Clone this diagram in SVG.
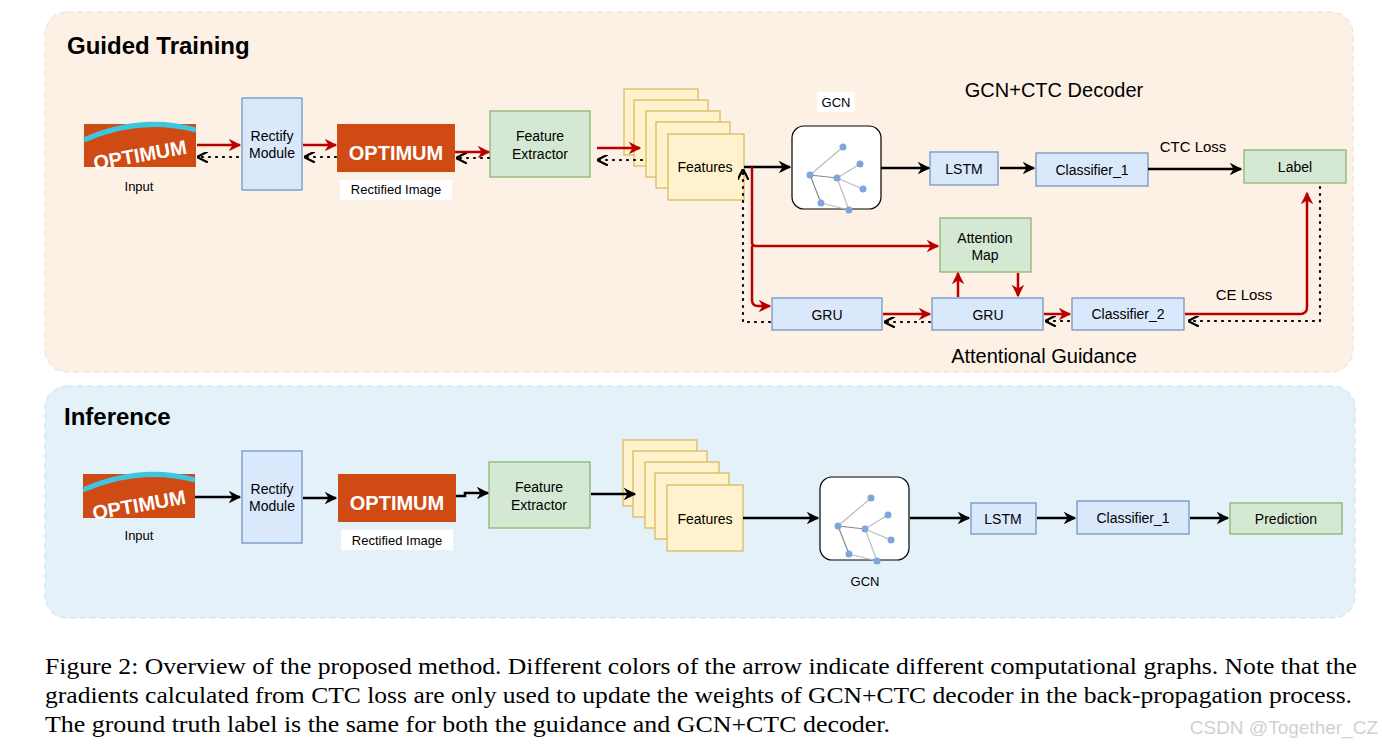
<svg xmlns="http://www.w3.org/2000/svg" width="1382" height="748" viewBox="0 0 1382 748">
<defs>
<marker id="ar" viewBox="0 0 10 10" refX="9" refY="5" markerWidth="5" markerHeight="5" orient="auto"><path d="M0,0L10,5L0,10L3,5z" fill="#b80000"/></marker>
<marker id="ak" viewBox="0 0 10 10" refX="9" refY="5" markerWidth="5" markerHeight="5" orient="auto"><path d="M0,0L10,5L0,10L3,5z" fill="#000"/></marker>
<marker id="ad" viewBox="0 0 10 10" refX="9" refY="5" markerWidth="5" markerHeight="5" orient="auto"><path d="M0,0L10,5L0,10" fill="none" stroke="#000" stroke-width="2"/></marker>
<g id="gcnicon">
<g stroke="#bbb" stroke-width="1.2"><line x1="843" y1="147" x2="810" y2="175"/><line x1="810" y1="175" x2="837" y2="178" stroke="#888"/><line x1="837" y1="178" x2="860" y2="164"/><line x1="837" y1="178" x2="849" y2="210"/><line x1="810" y1="175" x2="821" y2="203" stroke="#888"/><line x1="821" y1="203" x2="849" y2="210"/><line x1="837" y1="178" x2="863" y2="189"/></g>
<g fill="#7fa6dc"><circle cx="843" cy="147" r="3.5"/><circle cx="860" cy="164" r="3.5"/><circle cx="810" cy="175" r="3.5"/><circle cx="837" cy="178" r="3.5"/><circle cx="863" cy="189" r="3.5"/><circle cx="821" cy="203" r="3.5"/><circle cx="849" cy="210" r="3.5"/></g>
</g>
</defs>
<style>
text{font-family:"Liberation Sans",Arial,sans-serif;fill:#000}
text.cap{font-family:"Liberation Serif","Times New Roman",serif;font-size:24px}
.b{fill:#dae8fc;stroke:#6c8ebf;stroke-width:1.2}
.g{fill:#d5e8d4;stroke:#82b366;stroke-width:1.2}
.y{fill:#fff2cc;stroke:#d6b656;stroke-width:1.2}
.r{stroke:#b80000;stroke-width:2.5;fill:none;marker-end:url(#ar)}
.k{stroke:#000;stroke-width:2.5;fill:none;marker-end:url(#ak)}
.d{stroke:#000;stroke-width:2.2;fill:none;stroke-dasharray:1 6;stroke-linecap:round;marker-end:url(#ad)}
.t{font-size:14px;text-anchor:middle}
.img{fill:#d04a14}
.opt{font-weight:bold;fill:#fff;font-size:20px;text-anchor:middle}
</style>
<rect width="1382" height="748" fill="#fff"/>
<rect x="45" y="12" width="1308" height="360" rx="22" fill="#fdf1e6" stroke="#f3dcc8" stroke-dasharray="6 4"/>
<rect x="45" y="386" width="1310" height="232" rx="22" fill="#e4f1f8" stroke="#c4e0ef" stroke-dasharray="6 4"/>
<text x="67" y="54" font-size="24" font-weight="bold">Guided Training</text>
<text x="64" y="425" font-size="24" font-weight="bold">Inference</text>
<text x="1054" y="97" font-size="20" text-anchor="middle">GCN+CTC Decoder</text>
<text x="1044" y="363" font-size="20" text-anchor="middle">Attentional Guidance</text>

<g id="input1"><rect class="img" x="84" y="124" width="112" height="43"/><path d="M84,140Q140,115 196,130" stroke="#3cc6e0" stroke-width="5" fill="none"/><text class="opt" x="140" y="162" transform="rotate(-10 140 155)">OPTIMUM</text><text x="139" y="191" font-size="13" text-anchor="middle">Input</text></g>
<g id="rect1"><rect class="b" x="242" y="98" width="60" height="92"/><text class="t" x="272" y="141">Rectify</text><text class="t" x="272" y="158">Module</text></g>
<g id="rimg1"><rect class="img" x="337" y="124" width="118" height="48"/><text class="opt" x="396" y="160" font-size="24">OPTIMUM</text><rect x="340" y="180" width="112" height="20" fill="#fff"/><text x="396" y="194" font-size="13" text-anchor="middle">Rectified Image</text></g>
<g id="fe1"><rect class="g" x="490" y="111" width="100" height="66"/><text class="t" x="540" y="141" font-size="15">Feature</text><text class="t" x="540" y="159" font-size="15">Extractor</text></g>
<g id="feat1"><rect class="y" x="624" y="89" width="74" height="66"/><rect class="y" x="634" y="100" width="74" height="66"/><rect class="y" x="646" y="111" width="74" height="66"/><rect class="y" x="656" y="122" width="74" height="66"/><rect class="y" x="668" y="134" width="76" height="66"/><text class="t" x="705" y="172" font-size="13">Features</text></g>
<g id="gcn1"><rect x="792" y="126" width="89" height="83" rx="12" fill="#fff" stroke="#000" stroke-width="1.2"/><use href="#gcnicon"/><rect x="817" y="92" width="38" height="20" fill="#fff"/><text x="836" y="107" font-size="13" text-anchor="middle">GCN</text></g>
<g id="lstm1"><rect class="b" x="930" y="152" width="68" height="33"/><text class="t" x="964" y="174" font-size="15">LSTM</text></g>
<g id="cls1"><rect class="b" x="1036" y="153" width="112" height="33"/><text class="t" x="1092" y="175">Classifier_1</text></g>
<text x="1193" y="152" font-size="15" text-anchor="middle">CTC Loss</text>
<g id="label"><rect class="g" x="1244" y="150" width="102" height="33"/><text class="t" x="1295" y="172">Label</text></g>
<g id="att"><rect class="g" x="940" y="218" width="91" height="54"/><text class="t" x="985" y="243" font-size="13">Attention</text><text class="t" x="985" y="260" font-size="13">Map</text></g>
<g id="gru1"><rect class="b" x="772" y="298" width="110" height="32"/><text class="t" x="827" y="320" font-size="15">GRU</text></g>
<g id="gru2"><rect class="b" x="932" y="298" width="111" height="32"/><text class="t" x="988" y="320" font-size="15">GRU</text></g>
<g id="cls2"><rect class="b" x="1072" y="298" width="112" height="32"/><text class="t" x="1128" y="319">Classifier_2</text></g>
<text x="1244" y="300" font-size="15" text-anchor="middle">CE Loss</text>

<g id="input2"><rect class="img" x="83" y="474" width="112" height="44"/><path d="M83,490Q140,465 195,480" stroke="#3cc6e0" stroke-width="5" fill="none"/><text class="opt" x="139" y="512" transform="rotate(-10 139 505)">OPTIMUM</text><text x="139" y="540" font-size="13" text-anchor="middle">Input</text></g>
<g id="rect2"><rect class="b" x="242" y="451" width="60" height="92"/><text class="t" x="272" y="494">Rectify</text><text class="t" x="272" y="511">Module</text></g>
<g id="rimg2"><rect class="img" x="338" y="474" width="118" height="48"/><text class="opt" x="397" y="510" font-size="24">OPTIMUM</text><rect x="341" y="530" width="112" height="20" fill="#fff"/><text x="397" y="545" font-size="13" text-anchor="middle">Rectified Image</text></g>
<g id="fe2"><rect class="g" x="489" y="462" width="101" height="66"/><text class="t" x="539" y="492" font-size="15">Feature</text><text class="t" x="539" y="510" font-size="15">Extractor</text></g>
<g id="feat2"><rect class="y" x="623" y="440" width="74" height="66"/><rect class="y" x="633" y="451" width="74" height="66"/><rect class="y" x="645" y="462" width="74" height="66"/><rect class="y" x="655" y="473" width="74" height="66"/><rect class="y" x="667" y="485" width="76" height="66"/><text class="t" x="705" y="524" font-size="13">Features</text></g>
<g id="gcn2"><rect x="820" y="477" width="89" height="83" rx="12" fill="#fff" stroke="#000" stroke-width="1.2"/><use href="#gcnicon" transform="translate(28,351)"/><text x="865" y="586" font-size="13" text-anchor="middle">GCN</text></g>
<g id="lstm2"><rect class="b" x="971" y="503" width="65" height="31"/><text class="t" x="1003" y="524" font-size="15">LSTM</text></g>
<g id="cls3"><rect class="b" x="1077" y="501" width="112" height="33"/><text class="t" x="1133" y="523">Classifier_1</text></g>
<g id="pred"><rect class="g" x="1230" y="503" width="112" height="31"/><text class="t" x="1286" y="524" font-size="15">Prediction</text></g>

<g id="connectors">
<line class="r" x1="197" y1="145" x2="240" y2="145"/>
<line class="d" x1="238" y1="157" x2="198" y2="157"/>
<line class="r" x1="303" y1="145" x2="336" y2="145"/>
<line class="d" x1="336" y1="157" x2="305" y2="157"/>
<line class="r" x1="455" y1="152" x2="489" y2="152"/>
<line class="d" x1="489" y1="158" x2="457" y2="158"/>
<line class="r" x1="597" y1="148" x2="640" y2="148"/>
<line class="d" x1="642" y1="160" x2="598" y2="160"/>
<line class="k" x1="744" y1="167" x2="790" y2="167"/>
<line class="k" x1="881" y1="168" x2="929" y2="168"/>
<line class="k" x1="1000" y1="168" x2="1034" y2="168"/>
<line class="k" x1="1148" y1="169" x2="1241" y2="169"/>
<path class="r" d="M752,167V243Q752,246 756,246H938"/>
<path class="r" d="M752,246V300Q752,306 758,306H770"/>
<line class="r" x1="883" y1="314" x2="930" y2="314"/>
<line class="r" x1="958" y1="297" x2="958" y2="273"/>
<line class="r" x1="1018" y1="273" x2="1018" y2="296"/>
<line class="r" x1="1044" y1="314" x2="1070" y2="314"/>
<path class="r" d="M1185,314H1300Q1307,314 1307,307V193"/>
<path class="d" d="M1320,187V321H1189"/>
<line class="d" x1="1069" y1="321" x2="1046" y2="321"/>
<line class="d" x1="930" y1="322" x2="885" y2="322"/>
<path class="d" d="M770,322H743V170"/>
<line class="k" x1="195" y1="497" x2="240" y2="497"/>
<line class="k" x1="303" y1="498" x2="336" y2="498"/>
<path class="k" d="M456,496H465V493H488"/>
<line class="k" x1="591" y1="494" x2="635" y2="494"/>
<line class="k" x1="743" y1="518" x2="818" y2="518"/>
<line class="k" x1="910" y1="518" x2="969" y2="518"/>
<line class="k" x1="1037" y1="518" x2="1075" y2="518"/>
<line class="k" x1="1190" y1="518" x2="1228" y2="518"/>
</g>

<text class="cap" x="45" y="674" textLength="1312" lengthAdjust="spacingAndGlyphs">Figure 2: Overview of the proposed method. Different colors of the arrow indicate different computational graphs. Note that the</text>
<text class="cap" x="45" y="703" textLength="1307" lengthAdjust="spacingAndGlyphs">gradients calculated from CTC loss are only used to update the weights of GCN+CTC decoder in the back-propagation process.</text>
<text class="cap" x="45" y="732" textLength="845" lengthAdjust="spacingAndGlyphs">The ground truth label is the same for both the guidance and GCN+CTC decoder.</text>
<text x="1378" y="734" font-size="19" text-anchor="end" style="fill:#d0d0d0">CSDN @Together_CZ</text>
</svg>
